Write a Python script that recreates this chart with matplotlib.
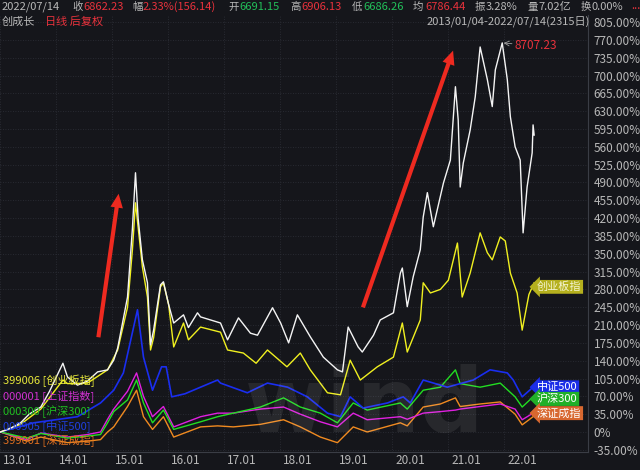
import matplotlib
matplotlib.use("Agg")
import matplotlib.pyplot as plt
import matplotlib.dates as mdates
import matplotlib.transforms as mtrans
import pandas as pd

plt.rcParams['font.family'] = ['Noto Sans CJK SC', 'DejaVu Sans']

# cumulative return (%) since 2013-01-04
cyb_dates = ['2013-01-04', '2013-03-15', '2013-05-15', '2013-07-10', '2013-09-24', '2013-11-20',
             '2014-02-15', '2014-03-17', '2014-05-21', '2014-07-25', '2014-09-29', '2014-12-03',
             '2015-01-12', '2015-02-07', '2015-04-12', '2015-05-14', '2015-06-03', '2015-06-20',
             '2015-07-18', '2015-08-20', '2015-09-09', '2015-09-29', '2015-11-13', '2015-12-02',
             '2016-01-05', '2016-02-07', '2016-04-11', '2016-05-13', '2016-07-11', '2016-07-31',
             '2016-12-08', '2017-01-23', '2017-04-04', '2017-06-21', '2017-08-06', '2017-11-12',
             '2018-01-04', '2018-02-25', '2018-04-23', '2018-07-16', '2018-10-09', '2019-01-09',
             '2019-02-11', '2019-03-20', '2019-05-24', '2019-06-20', '2019-09-01', '2019-10-15',
             '2020-01-09', '2020-02-23', '2020-03-07', '2020-04-08', '2020-05-17', '2020-07-02',
             '2020-07-21', '2020-08-17', '2020-09-25', '2020-11-30', '2021-01-14', '2021-02-16',
             '2021-03-06', '2021-03-19', '2021-04-08', '2021-05-23', '2021-06-25', '2021-07-27',
             '2021-09-12', '2021-10-14', '2021-11-03', '2021-12-18', '2022-01-20', '2022-02-09',
             '2022-03-12', '2022-04-14', '2022-05-03', '2022-05-29', '2022-07-01', '2022-07-07',
             '2022-07-14']
cyb_growth = [0, 8, 18, 35, 49, 80,
              135, 108, 92, 100, 118, 122,
              141, 165, 265, 400, 509, 420,
              338, 293, 171, 200, 289, 295,
              250, 214, 230, 205, 234, 226,
              214, 181, 224, 194, 190, 244,
              214, 175, 230, 187, 147, 122,
              118, 206, 167, 157, 190, 220,
              234, 312, 322, 246, 305, 358,
              422, 470, 403, 489, 534, 678,
              613, 481, 528, 593, 658, 756,
              692, 639, 711, 764, 692, 619,
              560, 534, 391, 481, 548, 603,
              583]

chinext_dates = ['2013-01-04', '2013-05-15', '2013-09-24', '2014-02-15', '2014-03-17', '2014-07-25',
                 '2014-12-03', '2015-02-07', '2015-04-12', '2015-05-14', '2015-06-03', '2015-07-18',
                 '2015-08-20', '2015-09-09', '2015-09-29', '2015-11-13', '2015-12-02', '2016-01-05',
                 '2016-02-07', '2016-04-11', '2016-05-13', '2016-07-31', '2016-12-08', '2017-01-23',
                 '2017-05-06', '2017-07-28', '2017-10-10', '2018-02-14', '2018-05-12', '2018-07-16',
                 '2018-11-05', '2019-01-29', '2019-04-02', '2019-06-07', '2019-09-26', '2020-01-09',
                 '2020-03-07', '2020-04-08', '2020-07-02', '2020-07-21', '2020-09-06', '2020-11-10',
                 '2021-01-01', '2021-03-01', '2021-04-01', '2021-05-23', '2021-07-27', '2021-09-12',
                 '2021-10-14', '2021-12-05', '2022-01-07', '2022-02-09', '2022-03-25', '2022-04-27',
                 '2022-06-10', '2022-07-14']
chinext = [0, 15, 45, 102, 95, 96,
           122, 161, 245, 358, 450, 324,
           265, 161, 185, 285, 293, 250,
           167, 214, 181, 206, 196, 161,
           155, 135, 161, 128, 155, 122,
           77, 73, 141, 102, 128, 147,
           214, 157, 220, 293, 273, 280,
           298, 371, 265, 312, 391, 352,
           338, 383, 375, 312, 273, 200,
           270, 293]

csi500_dates = ['2013-01-04', '2013-08-08', '2014-05-21', '2014-10-18', '2015-01-12', '2015-03-16',
                '2015-06-16', '2015-07-25', '2015-09-22', '2015-11-20', '2015-12-20', '2016-01-25',
                '2016-04-20', '2016-07-31', '2016-11-19', '2016-12-08', '2017-06-01', '2017-10-10',
                '2018-02-18', '2018-06-27', '2018-11-05', '2019-01-29', '2019-04-02', '2019-06-26',
                '2019-12-01', '2020-03-13', '2020-04-28', '2020-07-21', '2020-12-25', '2021-06-12',
                '2021-09-30', '2022-01-20', '2022-02-28', '2022-04-27', '2022-07-07', '2022-07-14']
csi500 = [0, 18, 30, 57, 82, 116,
          240, 147, 82, 128, 128, 69,
          75, 88, 102, 96, 77, 96,
          88, 69, 37, 30, 69, 47,
          57, 69, 57, 102, 88, 102,
          122, 116, 102, 69, 88, 92]

broad_dates = ['2013-01-04', '2013-06-25', '2013-09-24', '2014-03-17', '2014-07-25', '2014-10-18',
               '2014-12-03', '2015-01-12', '2015-04-12', '2015-06-10', '2015-07-25', '2015-09-22',
               '2015-12-02', '2016-02-07', '2016-07-31', '2016-11-19', '2017-03-02', '2017-08-25',
               '2018-01-23', '2018-05-12', '2018-09-20', '2019-01-09', '2019-04-22', '2019-07-22',
               '2020-02-23', '2020-04-08', '2020-07-21', '2020-11-10', '2021-02-16', '2021-03-19',
               '2021-07-27', '2021-12-05', '2022-03-12', '2022-04-27', '2022-07-07', '2022-07-14']
hs300 = [0, -12, -3, -12, -8, -5,
         18, 40, 63, 102, 57, 18,
         43, 5, 20, 30, 37, 49,
         67, 49, 37, 18, 57, 43,
         57, 45, 82, 88, 122, 95,
         88, 96, 69, 49, 69, 66]
shcomp = [0, -15, -2, -10, -5, 0,
          25, 45, 80, 116, 70, 30,
          50, 10, 30, 37, 37, 45,
          49, 35, 20, 10, 37, 24,
          30, 25, 37, 40, 43, 45,
          50, 55, 45, 24, 37, 36]
szcomp = [0, -18, -10, -21, -18, -15,
          0, 10, 50, 82, 30, 5,
          30, -10, 10, 12, 10, 15,
          24, 10, -10, -21, 10, 0,
          18, 12, 49, 55, 67, 50,
          55, 59, 35, 14, 30, 32]

year_ticks = ['2013-01-01', '2014-01-01', '2015-01-01', '2016-01-01', '2017-01-01',
              '2018-01-01', '2019-01-01', '2020-01-01', '2021-01-01', '2022-01-01']

BG = '#15161b'
GRID = '#2e3139'
TXT = '#b8b8b8'
RED = '#e8323c'
GREEN = '#22c05a'

fig = plt.figure(figsize=(6.4, 4.7), dpi=100, facecolor=BG)
ax = fig.add_axes([0, 0.0383, 0.919, 0.93], facecolor=BG)

d = lambda s: pd.to_datetime(s)

ax.plot(d(broad_dates), szcomp, color='#f08a20', lw=1.0)
ax.plot(d(broad_dates), shcomp, color='#e020e0', lw=1.0)
ax.plot(d(broad_dates), hs300, color='#22dd22', lw=1.0)
ax.plot(d(csi500_dates), csi500, color='#1a2ef0', lw=1.2)
ax.plot(d(chinext_dates), chinext, color='#f0f020', lw=1.0)
ax.plot(d(cyb_dates), cyb_growth, color='#f4f4f4', lw=1.0)

ax.set_xlim(d('2013-01-01'), d('2023-07-01'))
ax.set_ylim(-39.3, 819)

yt = list(range(-35, 806, 35))
ax.yaxis.tick_right()
ax.set_yticks(yt)
ax.set_yticklabels(['0%' if v == 0 else f'{v:.2f}%' for v in yt])
ax.set_xticks(d(year_ticks))
ax.xaxis.set_major_formatter(mdates.DateFormatter('%y.%m'))
ax.tick_params(axis='y', length=0, pad=4, labelsize=8.5, labelcolor=TXT)
ax.tick_params(axis='x', length=0, pad=1.5, labelsize=8.5, labelcolor=TXT)
# x labels start a few px right of their gridline
off = mtrans.ScaledTranslation(3 / 100, 0, fig.dpi_scale_trans)
for lab in ax.get_xticklabels():
    lab.set_horizontalalignment('left')
    lab.set_transform(lab.get_transform() + off)
ax.grid(True, color=GRID, lw=0.6, linestyle=(0, (1, 2)))
for side in ['top', 'left']:
    ax.spines[side].set_visible(False)
for side in ['right', 'bottom']:
    ax.spines[side].set_color('#3a3d45')
    ax.spines[side].set_linewidth(0.8)

# watermark
fig.text(365 / 640, 1 - 451 / 470, 'wind', fontsize=64, fontweight='bold', color='white',
         alpha=0.08, ha='center', va='bottom', family='DejaVu Sans')

# red arrows
for tail, head in [((98, 130), (119, 279)), ((362, 160), (454, 422))]:
    ax.annotate('', xy=head, xytext=tail, xycoords='figure pixels', textcoords='figure pixels',
                arrowprops=dict(arrowstyle='simple,head_width=0.9,head_length=1.0,tail_width=0.3',
                                color='#ee2a20', lw=0))

# max marker
imax = cyb_growth.index(max(cyb_growth))
ax.annotate('8707.23', xy=(d(cyb_dates[imax]), cyb_growth[imax]), xytext=(9, -2),
            textcoords='offset points', color=RED, fontsize=8.5, va='center',
            arrowprops=dict(arrowstyle='->', color='#a0a0a0', lw=0.6, shrinkA=0, shrinkB=1))

# right side labels
tag_x = d('2022-08-01')
tags = [('创业板指', chinext[-1] - 8, '#b5b01e', '#f4f4d0'),
        ('中证500', 88, '#1c2ee8', 'white'),
        ('沪深300', 65, '#20b028', 'white'),
        ('深证成指', 37, '#d86830', 'white')]
for name, yv, fc, tc in tags:
    ax.text(tag_x, yv, name, color=tc, fontsize=8, va='center', ha='left',
            bbox=dict(boxstyle='larrow,pad=0.15', fc=fc, ec='none'))

# left legend
legend = [('399006 [创业板指]', '#e8e83a', 381), ('000001 [上证指数]', '#d030d0', 397),
          ('000300 [沪深300]', '#20c020', 412), ('000905 [中证500]', '#2040e0', 427),
          ('399001 [深证成指]', '#e07020', 441)]
for t, c, yp in legend:
    fig.text(3 / 640, 1 - yp / 470, t, color=c, fontsize=8, va='center', ha='left')


# header rows
def px(x, y, s, c, size=8):
    fig.text(x / 640, 1 - y / 470, s, color=c, fontsize=size, va='center', ha='left')


px(2, 7, '2022/07/14', TXT)
header = [(72, '收', 83, '6862.23', RED), (132, '幅', 143, '2.33%(156.14)', RED),
          (228, '开', 239, '6691.15', GREEN), (290, '高', 301, '6906.13', RED),
          (352, '低', 363, '6686.26', GREEN), (413, '均', 425, '6786.44', RED),
          (475, '振', 486, '3.28%', TXT), (527, '量', 538, '7.02亿', TXT),
          (581, '换', 592, '0.00%', TXT)]
for xl, lab, xv, val, c in header:
    px(xl, 7, lab, TXT, 7.5)
    px(xv, 7, val, c, 8)
px(631, 6, '...', RED)
px(2, 22, '创成长', TXT)
px(45, 22, '日线 后复权', RED)
fig.text(590 / 640, 1 - 22 / 470, '2013/01/04-2022/07/14(2315日)', color=TXT, fontsize=8,
         va='center', ha='right')

fig.savefig('out.png', dpi=100, facecolor=BG)
